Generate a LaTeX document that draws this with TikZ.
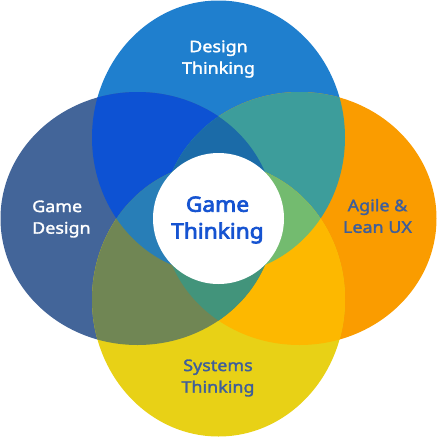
\documentclass[tikz,border=0pt]{standalone}
\usepackage{fontspec}
\setmainfont{Noto Sans}
\newfontface\labelface{Noto Sans}[FakeBold=1.8, FakeStretch=1.12]
\newfontface\coreface{Noto Sans}[FakeBold=3.4, FakeStretch=1.08]
\definecolor{topblue}{RGB}{31,127,206}
\definecolor{leftslate}{RGB}{67,101,153}
\definecolor{rightorange}{RGB}{250,156,0}
\definecolor{bottomyellow}{RGB}{232,209,22}
\definecolor{tlblue}{RGB}{13,82,211}
\definecolor{trteal}{RGB}{61,157,155}
\definecolor{rbgold}{RGB}{253,184,0}
\definecolor{blolive}{RGB}{112,134,84}
\definecolor{tlrblue}{RGB}{27,107,168}
\definecolor{tlbblue}{RGB}{40,126,183}
\definecolor{trbgreen}{RGB}{115,187,111}
\definecolor{lrbteal}{RGB}{66,148,123}
\definecolor{coreblue}{RGB}{21,83,209}
\definecolor{labelblue}{RGB}{62,94,155}
\def\topring{(218.5,137.5) ellipse [x radius=126.5pt, y radius=137pt]}
\def\leftring{(137.5,218.5) ellipse [x radius=137pt, y radius=126.5pt]}
\def\rightring{(299.5,218.5) ellipse [x radius=137pt, y radius=126.5pt]}
\def\bottomring{(218.5,299.5) ellipse [x radius=126.5pt, y radius=137pt]}
\tikzset{
  ringlabel/.style={align=center, inner sep=0pt, font=\labelface\fontsize{16}{21.6}\selectfont},
}
\begin{document}
\begin{tikzpicture}[x=1pt, y=-1pt]
\useasboundingbox (0,0) rectangle (437,437);
% the four rings
\fill[topblue] \topring;
\fill[leftslate] \leftring;
\fill[rightorange] \rightring;
\fill[bottomyellow] \bottomring;
% overlaps of two rings
\begin{scope}\clip \topring; \fill[tlblue] \leftring; \end{scope}
\begin{scope}\clip \topring; \fill[trteal] \rightring; \end{scope}
\begin{scope}\clip \rightring; \fill[rbgold] \bottomring; \end{scope}
\begin{scope}\clip \bottomring; \fill[blolive] \leftring; \end{scope}
% overlaps of three rings
\begin{scope}\clip \topring; \clip \leftring; \fill[tlrblue] \rightring; \end{scope}
\begin{scope}\clip \topring; \clip \leftring; \fill[tlbblue] \bottomring; \end{scope}
\begin{scope}\clip \topring; \clip \rightring; \fill[trbgreen] \bottomring; \end{scope}
\begin{scope}\clip \leftring; \clip \rightring; \fill[lrbteal] \bottomring; \end{scope}
% centre
\fill[white] (218.5,218.5) circle (65.5pt);
\node[align=center, inner sep=0pt, text=coreblue, font=\coreface\fontsize{21}{26.7}\selectfont] (core) at (217.5,220) {Game\\Thinking};
\node[ringlabel, text=white] (design) at (218.5,59) {Design\\Thinking};
\node[ringlabel, text=white, align=left, anchor=west] (game) at (32,219) {Game\\Design};
\node[ringlabel, text=labelblue] (agile) at (377.5,216) {Agile \&\\Lean UX};
\node[ringlabel, text=labelblue] (systems) at (218,378) {Systems\\Thinking};
\end{tikzpicture}
\end{document}
